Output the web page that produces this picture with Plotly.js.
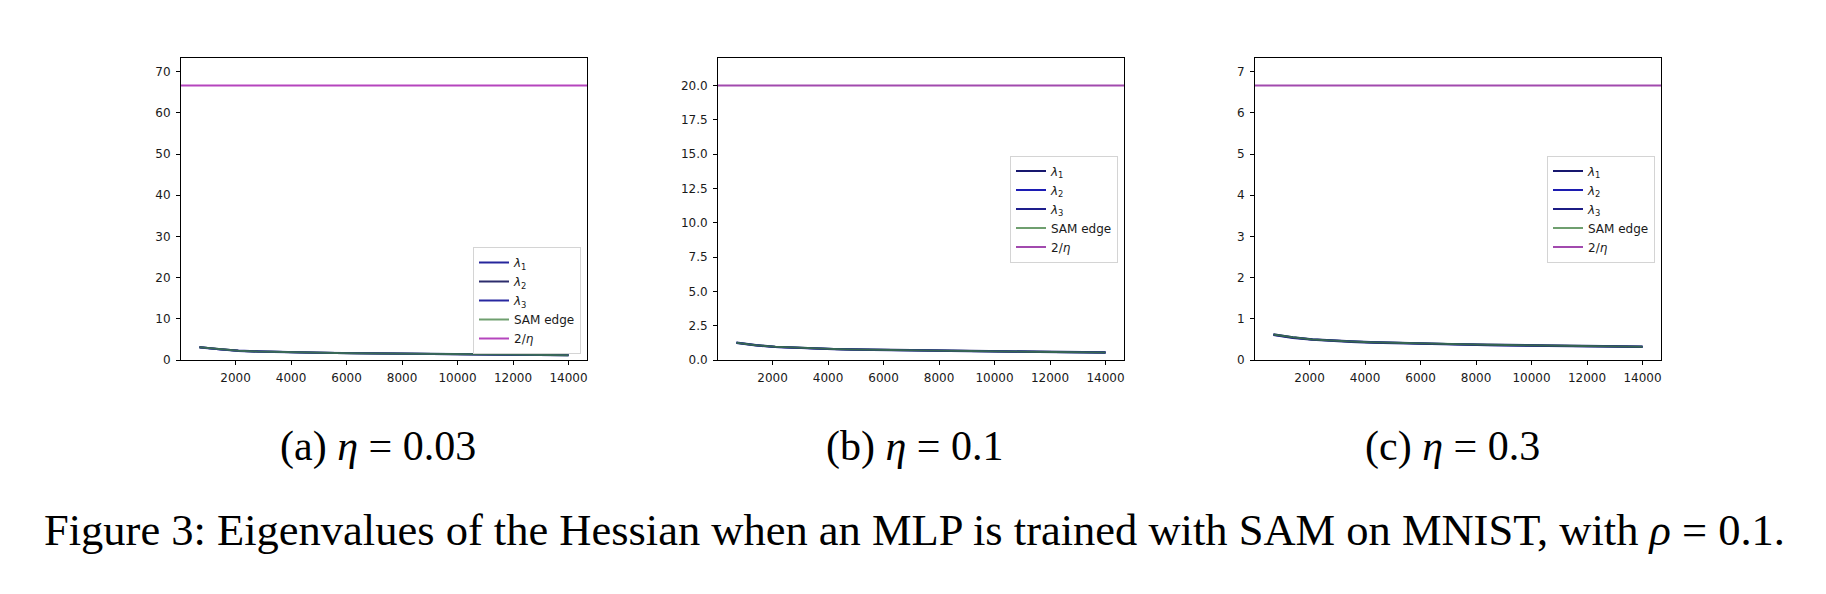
<!DOCTYPE html>
<html>
<head>
<meta charset="utf-8">
<script src="https://cdn.plot.ly/plotly-3.0.1.min.js"></script>
<style>
html,body{margin:0;padding:0;background:#fff;}
#chart{width:1826px;height:594px;}
</style>
</head>
<body>
<div id="chart"></div>
<script>
// ---- data ----
const steps = [700,1400,2100,2800,3500,4200,4900,5600,6300,7000,7700,8400,9100,9800,10500,11200,11900,12600,13300,14000];
const etas = [0.03, 0.1, 0.3];
const subcaptions = ["(a) <i>η</i> = 0.03", "(b) <i>η</i> = 0.1", "(c) <i>η</i> = 0.3"];
const figureCaption = "Figure 3: Eigenvalues of the Hessian when an MLP is trained with SAM on MNIST, with <i>ρ</i> = 0.1.";

// eta = 0.03
const lam1_a = [3.15,2.62,2.28,2.08,1.95,1.86,1.79,1.73,1.67,1.62,1.57,1.52,1.48,1.44,1.40,1.36,1.32,1.28,1.24,1.19];
const lam2_a = [3.10,2.58,2.24,2.04,1.92,1.83,1.76,1.70,1.64,1.59,1.54,1.50,1.46,1.42,1.38,1.34,1.30,1.26,1.22,1.17];
const lam3_a = [3.05,2.54,2.20,2.01,1.89,1.80,1.73,1.67,1.61,1.56,1.51,1.47,1.43,1.39,1.35,1.31,1.27,1.23,1.19,1.15];
const sam_a  = [3.12,2.60,2.26,2.06,1.94,1.85,1.78,1.72,1.66,1.61,1.56,1.51,1.47,1.43,1.39,1.35,1.31,1.27,1.23,1.18];
// eta = 0.1
const lam1_b = [1.27,1.09,0.97,0.90,0.85,0.81,0.78,0.755,0.73,0.71,0.695,0.68,0.665,0.65,0.635,0.62,0.605,0.59,0.575,0.56];
const lam2_b = [1.25,1.07,0.955,0.885,0.835,0.795,0.765,0.74,0.715,0.695,0.68,0.665,0.65,0.635,0.62,0.605,0.59,0.575,0.56,0.545];
const lam3_b = [1.23,1.05,0.94,0.87,0.82,0.78,0.75,0.725,0.70,0.68,0.665,0.65,0.635,0.62,0.605,0.59,0.575,0.56,0.545,0.53];
const sam_b  = [1.26,1.08,0.96,0.89,0.84,0.80,0.77,0.745,0.72,0.70,0.685,0.67,0.655,0.64,0.625,0.61,0.595,0.58,0.565,0.55];
// eta = 0.3
const lam1_c = [0.625,0.555,0.505,0.475,0.455,0.435,0.42,0.41,0.40,0.39,0.38,0.372,0.365,0.358,0.352,0.346,0.34,0.335,0.33,0.325];
const lam2_c = [0.615,0.545,0.497,0.467,0.447,0.428,0.414,0.403,0.393,0.383,0.374,0.366,0.359,0.352,0.346,0.34,0.334,0.329,0.324,0.319];
const lam3_c = [0.605,0.537,0.49,0.46,0.44,0.421,0.407,0.397,0.387,0.377,0.368,0.36,0.353,0.346,0.34,0.334,0.328,0.323,0.318,0.313];
const sam_c  = [0.62,0.55,0.50,0.47,0.45,0.43,0.417,0.406,0.396,0.386,0.377,0.369,0.362,0.355,0.349,0.343,0.337,0.332,0.327,0.322];

const xTicks = [2000,4000,6000,8000,10000,12000,14000];
const yTickVals = [[0,10,20,30,40,50,60,70],[0,2.5,5,7.5,10,12.5,15,17.5,20],[0,1,2,3,4,5,6,7]];
const legendLabels = ["<i>λ</i><sub>1</sub>","<i>λ</i><sub>2</sub>","<i>λ</i><sub>3</sub>","SAM edge","2/<i>η</i>"];

// ---- style ----
const lamColors = [["#26269c","#2c2c6c","#2828a0"],["#17176e","#1c1cb4","#1e1e8c"],["#17176e","#1c1cb0","#1c1c84"]];
const samColor = "#3f7f3f";
const edgeColors = ["#b545bd","#a24aae","#a24aae"];
const plotTop = 58, plotBottom = 360, W = 1826, H = 594;
const panelLeft = [181, 718, 1255], panelWidth = 406;
const xRange = [35, 14665];
const yMax = etas.map(e => 1.1 * 2 / e);

const lamData = [[lam1_a,lam2_a,lam3_a],[lam1_b,lam2_b,lam3_b],[lam1_c,lam2_c,lam3_c]];
const samData = [sam_a, sam_b, sam_c];

const traces = [];
const layout = {
  width: W, height: H,
  margin: {l:0, r:0, t:0, b:0},
  paper_bgcolor: "#fff", plot_bgcolor: "#fff",
  font: {family: "DejaVu Sans", size: 12, color: "#1a1a1a"},
  annotations: [],
};
const legendPos = [
  {x: 581/W, y: (H-354)/H, xanchor: "right", yanchor: "bottom"},
  {x: 1118/W, y: (H-209)/H, xanchor: "right", yanchor: "middle"},
  {x: 1655/W, y: (H-209)/H, xanchor: "right", yanchor: "middle"},
];

for (let p = 0; p < 3; p++) {
  const sfx = p === 0 ? "" : String(p+1);
  const xa = "x" + sfx, ya = "y" + sfx;
  const lg = "legend" + sfx;
  for (let k = 0; k < 3; k++) {
    traces.push({x: steps, y: lamData[p][k], xaxis: xa, yaxis: ya, mode: "lines",
      name: legendLabels[k], legend: lg, line: {color: lamColors[p][k], width: 2}});
  }
  traces.push({x: steps, y: samData[p], xaxis: xa, yaxis: ya, mode: "lines",
    name: legendLabels[3], legend: lg, opacity: 0.75, line: {color: samColor, width: 2}});
  traces.push({x: xRange, y: [2/etas[p], 2/etas[p]], xaxis: xa, yaxis: ya, mode: "lines",
    name: legendLabels[4], legend: lg, line: {color: edgeColors[p], width: 2}});

  const axCommon = {showgrid: false, zeroline: false, showline: true, mirror: true,
    linecolor: "#000", linewidth: 1, ticks: "outside", ticklen: 4, tickwidth: 1, tickcolor: "#000",
    ticklabelstandoff: 3,
    tickfont: {family: "DejaVu Sans", size: 12, color: "#1a1a1a"}};
  layout["xaxis" + sfx] = Object.assign({}, axCommon, {
    domain: [panelLeft[p]/W, (panelLeft[p]+panelWidth)/W], anchor: ya,
    range: xRange, tickmode: "array", tickvals: xTicks, ticktext: xTicks.map(String)});
  layout["yaxis" + sfx] = Object.assign({}, axCommon, {
    domain: [(H-plotBottom)/H, (H-plotTop)/H], anchor: xa,
    range: [0, yMax[p]], tickmode: "array", tickvals: yTickVals[p],
    ticktext: yTickVals[p].map(v => p === 1 ? v.toFixed(1) : String(v))});
  layout[lg] = Object.assign({}, legendPos[p], {
    bgcolor: "rgba(255,255,255,0.85)", bordercolor: "#d4d4d4", borderwidth: 1,
    font: {family: "DejaVu Sans", size: 12, color: "#1a1a1a"},
    tracegroupgap: 0, itemwidth: 30});

  layout.annotations.push({text: subcaptions[p], xref: "paper", yref: "paper",
    x: (panelLeft[p] + panelWidth/2 - 6)/W, y: (H-446)/H, xanchor: "center", yanchor: "middle",
    showarrow: false, font: {family: "Liberation Serif", size: 42, color: "#000"}});
}
layout.annotations.push({text: figureCaption, xref: "paper", yref: "paper",
  x: 914/W, y: (H-530)/H, xanchor: "center", yanchor: "middle",
  showarrow: false, font: {family: "Liberation Serif", size: 44.5, color: "#000"}});

Plotly.newPlot("chart", traces, layout, {staticPlot: true, displayModeBar: false});
</script>
</body>
</html>
